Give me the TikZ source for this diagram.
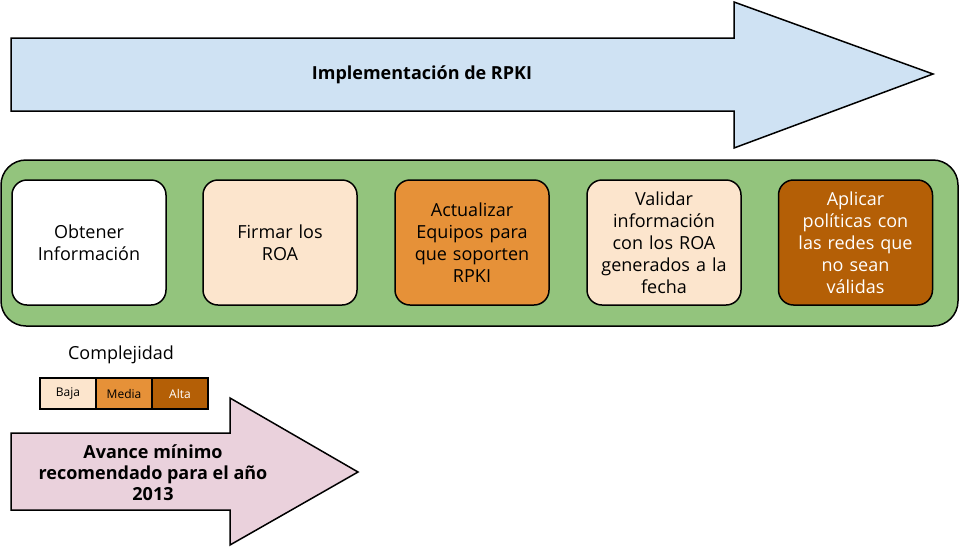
\documentclass[tikz,border=0pt]{standalone}
\usepackage{fontspec}
\setmainfont{Open Sans}
\begin{document}
\begin{tikzpicture}[x=1pt,y=-1pt,
  outl/.style={draw=black,line width=1.5pt,line join=miter},
  stepbox/.style={draw=black,line width=1.5pt,rounded corners=15pt,minimum width=154pt,minimum height=125pt,inner sep=0pt,align=center,text width=150pt,font=\fontsize{18}{22}\selectfont},
  lgbox/.style={draw=black,line width=1.5pt,minimum width=56pt,minimum height=31pt,inner sep=0pt,font=\fontsize{12}{14}\selectfont},
  lbl/.style={align=center,inner sep=0pt}
]
\definecolor{cblue}{HTML}{CFE2F3}
\definecolor{cgreen}{HTML}{93C47D}
\definecolor{clight}{HTML}{FCE5CD}
\definecolor{cmid}{HTML}{E69138}
\definecolor{cdark}{HTML}{B45F06}
\definecolor{cpink}{HTML}{EAD1DC}
\useasboundingbox (0,0) rectangle (960,547);
% top arrow
\draw[outl,fill=cblue] (11,38) -- (734,38) -- (734,2) -- (933,74) -- (734,148) -- (734,111) -- (11,111) -- cycle;
\node[lbl,font=\bfseries\fontsize{18}{22}\selectfont] (ttl) at (422,75) {Implementación de RPKI};
% green container
\draw[outl,fill=cgreen,rounded corners=25pt] (1,160) rectangle (958,326);
\node[stepbox,fill=white] (s1) at (89,242.5) {Obtener\\Información};
\node[stepbox,fill=clight] (s2) at (280,242.5) {Firmar los\\ROA};
\node[stepbox,fill=cmid] (s3) at (472,242.5) {Actualizar\\Equipos para\\que soporten\\RPKI};
\node[stepbox,fill=clight] (s4) at (664,242.5) {Validar\\información\\con los ROA\\generados a la\\fecha};
\node[stepbox,fill=cdark,text=white] (s5) at (855.5,242.5) {Aplicar\\políticas con\\las redes que\\no sean\\válidas};
% legend
\node[lbl,font=\fontsize{18}{22}\selectfont] (cx) at (121,355) {Complejidad};
\node[lgbox,fill=clight] (lb) at (68,393.5) {Baja};
\node[lgbox,fill=cmid] (lm) at (124,393.5) {Media};
\node[lgbox,fill=cdark,text=white] (la) at (180,393.5) {Alta};
% bottom arrow
\draw[outl,fill=cpink] (11,433) -- (230,433) -- (230,398) -- (358,472) -- (230,545) -- (230,510) -- (11,510) -- cycle;
\node[lbl,font=\bfseries\fontsize{18}{21}\selectfont] (av) at (153,473) {Avance mínimo\\recomendado para el año\\2013};
\end{tikzpicture}
\end{document}
